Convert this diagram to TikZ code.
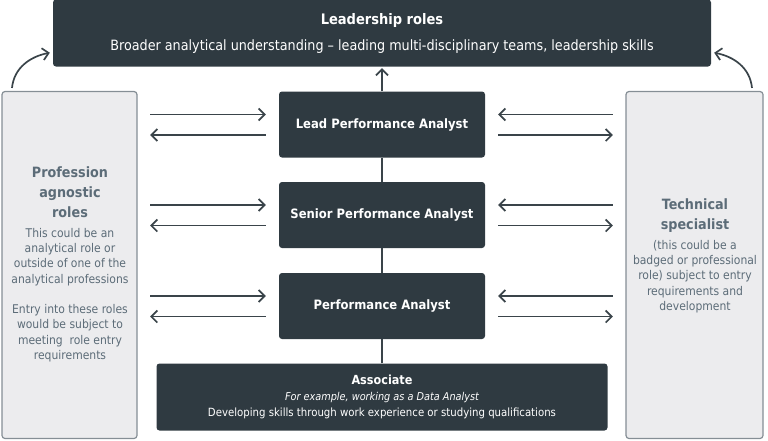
\documentclass[tikz,border=0pt]{standalone}
\usepackage{fontspec}
\setmainfont{DejaVu Sans Condensed}
\usetikzlibrary{arrows.meta}
\definecolor{slate}{HTML}{2F3A41}
\definecolor{mist}{HTML}{ECECEE}
\definecolor{rim}{HTML}{858E95}
\definecolor{ink}{HTML}{5C6C78}
\definecolor{wire}{HTML}{3A444A}
\tikzset{
  role/.style={fill=slate,rounded corners=3pt,text=white,align=center,minimum width=206pt,minimum height=66pt,inner sep=0pt,font=\bfseries\fontsize{12.9}{15}\selectfont},
  side/.style={draw=rim,fill=mist,line width=1.2pt,rounded corners=3pt,minimum width=135pt,minimum height=347pt,inner sep=0pt},
  head/.style={text=ink,align=center,inner sep=0pt,font=\bfseries\fontsize{14.2}{20}\selectfont},
  note/.style={text=ink,align=center,inner sep=0pt,font=\fontsize{12}{15.3}\selectfont},
  flow/.style={draw=wire,line width=1.7pt,-{Straight Barb[length=6pt,width=12pt,line width=1.7pt]}},
  link/.style={draw=wire,line width=1.7pt}
}
\begin{document}
\begin{tikzpicture}[x=1pt,y=-1pt]
  \useasboundingbox (0,0) rectangle (768,440);
  \node[role,minimum width=658pt,minimum height=67pt,font=\fontsize{14.2}{26}\selectfont] (leaders) at (382,33) {{\bfseries\fontsize{14.5}{17}\selectfont Leadership roles}\\Broader analytical understanding – leading multi-disciplinary teams, leadership skills};
  \node[role] (lead) at (382,124.5) {Lead Performance Analyst};
  \node[role] (senior) at (382,215) {Senior Performance Analyst};
  \node[role] (analyst) at (382,306) {Performance Analyst};
  \node[role,minimum width=451pt,minimum height=67pt,font=\fontsize{11.3}{16}\selectfont] (assoc) at (382,397) {{\bfseries\fontsize{12.5}{15}\selectfont Associate}\\{\itshape\fontsize{10.8}{16}\selectfont For example, working as a Data Analyst}\\Developing skills through work experience or studying qualifications};
  \node[side] (agnostic) at (69.5,265) {};
  \node[side,minimum width=137pt] (specialist) at (694.5,265) {};
  \node[head] (agnostichead) at (70,192) {Profession\\agnostic\\roles};
  \node[note] (agnosticnote) at (70,295) {This could be an\\analytical role or\\outside of one of the\\analytical professions\\[15.3pt]Entry into these roles\\would be subject to\\meeting\ \ role entry\\requirements};
  \node[head] (specialisthead) at (695,216) {Technical\\specialist};
  \node[note] (specialistnote) at (695,276.5) {(this could be a\\badged or professional\\role) subject to entry\\requirements and\\development};
  \begin{scope}[link]
    \draw (assoc) -- (analyst);
    \draw (analyst) -- (senior);
    \draw (senior) -- (lead);
  \end{scope}
  \draw[flow,shorten >=1.5pt] (lead) -- (leaders);
  \foreach \r in {lead,senior,analyst}{
    \draw[flow,shorten <=12.5pt,shorten >=13pt] ([yshift=10pt]agnostic.east |- \r.west) -- ([yshift=10pt]\r.west);
    \draw[flow,shorten <=13pt,shorten >=12.5pt] ([yshift=-10.5pt]\r.west) -- ([yshift=-10.5pt]agnostic.east |- \r.west);
    \draw[flow,shorten <=12.5pt,shorten >=13pt] ([yshift=10pt]specialist.west |- \r.east) -- ([yshift=10pt]\r.east);
    \draw[flow,shorten <=13pt,shorten >=12.5pt] ([yshift=-10.5pt]\r.east) -- ([yshift=-10.5pt]specialist.west |- \r.east);
  }
  \draw[flow] ([xshift=-57.5pt,yshift=3pt]agnostic.north) .. controls +(2,-20) and +(-20,4) .. ([xshift=-3pt,yshift=14pt]leaders.south west);
  \draw[flow] ([xshift=57.5pt,yshift=3pt]specialist.north) .. controls +(-2,-20) and +(20,4) .. ([xshift=3pt,yshift=14pt]leaders.south east);
\end{tikzpicture}
\end{document}
